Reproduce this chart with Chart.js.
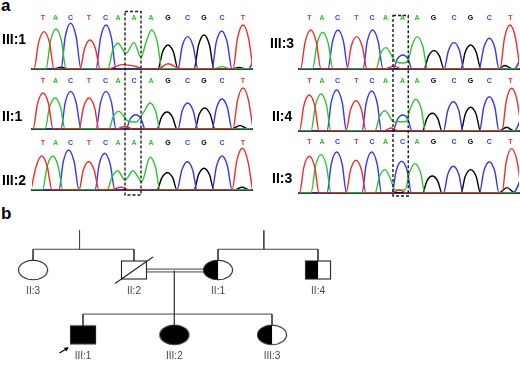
<!DOCTYPE html>
<html>
<head>
<meta charset="utf-8">
<script src="https://cdn.jsdelivr.net/npm/chart.js@4.4.1/dist/chart.umd.min.js"></script>
<style>
  body { margin: 0; background: #fff; }
  #fig { position: relative; width: 520px; height: 372px; overflow: hidden; font-family: "Liberation Sans", Arial, sans-serif; }
  #fig canvas { position: absolute; }
  .tag { position: absolute; font-weight: bold; font-size: 17px; line-height: 17px; color: #000; }
  .who { position: absolute; font-weight: bold; font-size: 14px; line-height: 14px; color: #000; }
  #boxes { position: absolute; left: 0; top: 0; }
</style>
</head>
<body>
<div id="fig">
  <div class="tag" style="left:1px;top:-3px">a</div>
  <div class="tag" style="left:1px;top:205px">b</div>
  <canvas id="c1"></canvas><canvas id="c2"></canvas><canvas id="c3"></canvas>
  <canvas id="c4"></canvas><canvas id="c5"></canvas><canvas id="c6"></canvas>
  <canvas id="ped"></canvas>
  <svg id="boxes" width="520" height="372"></svg>
</div>
<script>
// base call colours
const baseColours = { A: '#2fc42f', C: '#3636ee', G: '#000000', T: '#f02c2c' };

// called sequence per sample
const seqIII1 = ['T','A','C','T','C','A','A','A','G','C','G','C','T'];
const seqII1  = ['T','A','C','T','C','A','C','A','G','C','G','C','T'];
const seqIII2 = ['T','A','C','T','C','A','A','A','G','C','G','C','T'];
const seqIII3 = ['T','A','C','T','C','A','A','A','G','C','G','C','T'];
const seqII4  = ['T','A','C','T','C','A','A','A','G','C','G','C','T'];
const seqII3  = ['T','A','C','T','C','A','C','A','G','C','G','C','T'];

// base call positions (scan units) for the left and right columns
const leftPos  = [11, 23.5, 38.5, 57, 73.5, 86, 102, 119, 136, 155.5, 172, 190, 211];
const rightPos = [10.5, 23, 38.5, 57.5, 73, 86.5, 103.5, 118, 134.5, 155, 171.5, 190.3, 211.5];

// traces: [scan, signal] per channel
const iii1T = [[0,0],[2,0],[6.5,26.2],[12,37.4],[17.5,26.2],[22,0],[48,0],[52.5,20.3],[58,29],[63.5,20.3],[68,0],[76,0],[90,4.4],[104,2.5],[112,0],[126,0],[136,5.2],[146,1],[152,0],[201,0],[205.5,30.8],[211,44],[216.5,30.8],[221,0]];
const iii1A = [[0,0],[14,0],[18.5,28],[24,40],[29.5,28],[34,0],[76,0],[80.5,18],[86,25.7],[94,15.7],[102,26.4],[109,11.7],[114.2,27.3],[119.7,39],[125.2,27.3],[130,0],[181,0],[190,2.4],[199,0],[220,0]];
const iii1C = [[0,0],[29,0],[33.2,32],[38.7,45.7],[44.2,32],[49,0],[64,0],[68.5,30.8],[74,44],[79.5,30.8],[84,0],[146,0],[150.2,22.7],[155.7,32.4],[161.2,22.7],[166,0],[180,0],[184.2,26.6],[189.7,38],[195.2,26.6],[200,0],[216,0],[228,30]];
const iii1G = [[0,0],[21,0],[29,1.7],[37,0],[126,0],[130.5,16.8],[136,24],[141.5,16.8],[146,0],[162,0],[166.5,23.8],[172,34],[177.5,23.8],[182,0],[200,0],[207,1.5],[214,0],[220,0]];

const ii1T = [[0,0],[1,0],[5.5,25.2],[11,36],[16.5,25.2],[21,0],[47,0],[51.5,21.7],[57,31],[62.5,21.7],[67,0],[84,0],[93,2.5],[101,0],[201,0],[205.5,28.7],[211,41],[216.5,28.7],[221,0]];
const ii1A = [[0,0],[13,0],[17.5,21.7],[23,31],[28.5,21.7],[33,0],[77,0],[81.2,12.3],[86.7,17.6],[96,8],[104,7],[112.5,18.2],[118,26],[123.5,18.2],[128,0],[220,0]];
const ii1C = [[0,0],[29,0],[33.2,26.3],[38.7,37.6],[44.2,26.3],[49,0],[64,0],[68.5,26.3],[74,37.6],[79.5,26.3],[84,0],[94,0],[98.2,10],[103.7,14.3],[109.2,10],[113,0],[146,0],[150.2,18.2],[155.7,26],[161.2,18.2],[166,0],[180,0],[184.5,21],[190,30],[195.5,21],[200,0],[220,0]];
const ii1G = [[0,0],[125,0],[129.5,11.9],[135,17],[140.5,11.9],[145,0],[163,0],[167.2,14.7],[172.7,21],[178.2,14.7],[183,0],[200,0],[208,3.6],[216,0],[220,0]];

const iii2T = [[-1,0],[4.2,23.8],[9.7,34],[15.2,23.8],[20,0],[47,0],[51.2,19.8],[56.7,28.3],[62.2,19.8],[67,0],[78,0],[89,2.7],[98,0],[200,0],[204.8,29.2],[210.3,41.7],[215.8,29.2],[220.5,0]];
const iii2A = [[0,0],[10.5,0],[15.2,23.8],[20.7,34],[26.2,23.8],[31,0],[75,0],[80.2,13.5],[85.7,19.3],[93,10],[101,19.3],[109.7,8.3],[118,32.7],[123.5,22.9],[128,0],[220,0]];
const iii2C = [[0,0],[27,0],[31.2,28],[36.7,40],[42.2,28],[47,0],[63,0],[67.2,25.7],[72.7,36.7],[78.2,25.7],[83,0],[145,0],[149.8,19.8],[155.3,28.3],[160.8,19.8],[165,0],[180,0],[184.5,23.8],[190,34],[195.5,23.8],[200,0],[220,0]];
const iii2G = [[0,0],[125,0],[129.8,12.1],[135.3,17.3],[140.8,12.1],[145,0],[162,0],[166.5,15.2],[172,21.7],[177.5,15.2],[182,0],[202,0],[210,2.7],[218,0],[220,0]];

const iii3T = [[0,0],[1.5,0],[6.2,27.3],[11.7,39],[17.2,27.3],[22,0],[48,0],[52.2,22.7],[57.7,32.4],[63.2,22.7],[68,0],[86,0],[95,3],[103,0],[201,0],[205.5,30.8],[211,44],[216.5,30.8],[221,0]];
const iii3A = [[0,0],[13.5,0],[18.2,25.7],[23.7,36.7],[29.2,25.7],[34,0],[77,0],[81.5,15],[87,21.4],[97,7],[104,6],[109,8],[112.8,22.7],[118.3,32.4],[123.8,22.7],[128.5,0],[220,0]];
const iii3C = [[0,0],[29,0],[33.5,27.3],[39,39],[44.5,27.3],[49,0],[64,0],[68.2,27.3],[73.7,39],[79.2,27.3],[84,0],[94,0],[98.2,9.8],[103.7,14],[109.2,9.8],[113,0],[145,0],[149.5,18.5],[155,26.4],[160.5,18.5],[165,0],[180,0],[184.8,21.5],[190.3,30.7],[195.8,21.5],[200,0],[215,0],[228,30]];
const iii3G = [[0,0],[125,0],[129.5,12.9],[135,18.4],[140.5,12.9],[145,0],[162,0],[166.2,16.8],[171.7,24],[177.2,16.8],[182,0],[199,0],[206,3.5],[214,0],[220,0]];

const ii4T = [[0,0],[0.5,0],[4.8,25.2],[10.3,36],[15.8,25.2],[20,0],[47,0],[51.5,21.2],[57,30.3],[62.5,21.2],[67,0],[84,0],[92,3],[100,0],[203,0],[207.2,29.9],[212.7,42.7],[218.2,29.9],[222.5,0]];
const ii4A = [[0,0],[12,0],[16.5,25.9],[22,37],[27.5,25.9],[32,0],[76,0],[80.5,14.2],[86,20.3],[95,9],[101,9.3],[107,9.5],[111.2,22.2],[116.7,31.7],[122.2,22.2],[126.5,0],[220,0]];
const ii4C = [[0,0],[28,0],[32.2,28.7],[37.7,41],[43.2,28.7],[47.5,0],[63,0],[67.2,28],[72.7,40],[78.2,28],[82.5,0],[94,0],[98.2,11.2],[103.7,16],[109.2,11.2],[113,0],[144.5,0],[148.8,20.5],[154.3,29.3],[159.8,20.5],[164,0],[180.5,0],[184.8,24],[190.3,34.3],[195.8,24],[200,0],[215,0],[228,32]];
const ii4G = [[0,0],[123.5,0],[127.8,12.4],[133.3,17.7],[138.8,12.4],[143,0],[162,0],[166.2,16.6],[171.7,23.7],[177.2,16.6],[181.5,0],[200,0],[207.7,3.7],[215,0],[220,0]];

const ii3T = [[0,0],[0.5,0],[4.8,25.7],[10.3,36.7],[15.8,25.7],[20,0],[47,0],[51.5,22.9],[57,32.7],[62.5,22.9],[67,0],[92,0],[100,3],[108,0],[203,0],[207.2,31.1],[212.7,44.4],[218.2,31.1],[222.5,0]];
const ii3A = [[0,0],[12,0],[16.5,26.9],[22,38.4],[27.5,26.9],[32,0],[76,0],[80.5,16.4],[86,23.4],[91.5,14],[96,3],[106,3],[110.5,20.6],[116,29.4],[121.5,20.6],[126,0],[220,0]];
const ii3C = [[0,0],[28,0],[32.2,28.7],[37.7,41],[43.2,28.7],[47.5,0],[63,0],[67.2,28.7],[72.7,41],[78.2,28.7],[82.5,0],[93,0],[97.2,22.2],[102.7,31.7],[108.2,22.2],[112.5,0],[144.5,0],[148.8,18.7],[154.3,26.7],[159.8,18.7],[164,0],[180.5,0],[184.8,21.7],[190.3,31],[195.8,21.7],[200,0],[214,0],[228,34]];
const ii3G = [[0,0],[123.5,0],[127.8,11.9],[133.3,17],[138.8,11.9],[143,0],[162,0],[166.2,16.4],[171.7,23.4],[177.2,16.4],[181.5,0],[200,0],[208,5.4],[216,0],[220,0]];

// pedigree
const pedIds  = ['II:3', 'II:2', 'II:1', 'II:4', 'III:1', 'III:2', 'III:3'];
const pedX    = [23.5, 131, 220.5, 327, 76.7, 174, 278];
const pedGen  = [2, 2, 2, 2, 3, 3, 3];
const pedSex  = ['F', 'M', 'F', 'M', 'M', 'F', 'F'];
const pedFill = ['none', 'none', 'half', 'half', 'full', 'full', 'half'];
const pedDeceased = ['II:2'];
const pedProband = 'III:1';
const sibships = [['II:3', 'II:2'], ['II:1', 'II:4'], ['III:1', 'III:2', 'III:3']];
const sibLineX = [73, 269.3, 174];
const sibLineFrom = [1.39, 1.39, 2.01];
const couples = [['II:2', 'II:1']];

const SCAN_MAX = 220;

function chromatogram(id, left, letterY, baseline, pos, letters, traces) {
  const top = Math.round(letterY - 3.5);
  const bottom = Math.round(baseline);
  const cv = document.getElementById(id);
  cv.style.left = (left - 4) + 'px';
  cv.style.top = top + 'px';
  cv.width = SCAN_MAX + 8;
  cv.height = bottom - top + 2;

  const order = ['T', 'A', 'C', 'G'];
  new Chart(cv, {
    type: 'line',
    data: {
      datasets: order.map(b => ({
        data: traces[b].map(p => ({ x: p[0], y: p[1] })),
        borderColor: baseColours[b],
        borderWidth: 1.4,
        pointRadius: 0,
        fill: false,
        cubicInterpolationMode: 'monotone'
      }))
    },
    options: {
      animation: false,
      responsive: false,
      devicePixelRatio: 1,
      events: [],
      layout: { padding: { left: 4, right: 4, top: 0, bottom: 2 } },
      plugins: { legend: { display: false }, tooltip: { enabled: false } },
      scales: {
        x: {
          type: 'linear', min: 0, max: SCAN_MAX, z: 1,
          ticks: { display: false },
          grid: { display: false, drawTicks: false },
          border: { display: true, color: '#3c3c3c', width: 2 }
        },
        seq: {
          type: 'linear', position: 'top', min: 0, max: SCAN_MAX,
          afterBuildTicks: ax => { ax.ticks = pos.map(v => ({ value: v })); },
          ticks: {
            autoSkip: false, maxRotation: 0, padding: 0,
            font: { size: 7, weight: 'bold', lineHeight: 1, family: 'Liberation Sans' },
            color: c => baseColours[letters[c.index]],
            callback: (v, i) => letters[i]
          },
          grid: { display: false, drawTicks: false },
          border: { display: false }
        },
        y: { display: false, min: 0, max: bottom - top - 7 }
      }
    }
  });
}

chromatogram('c1', 32, 18.7, 68.7, leftPos, seqIII1, { T: iii1T, A: iii1A, C: iii1C, G: iii1G });
chromatogram('c2', 32, 81, 129.3, leftPos, seqII1, { T: ii1T, A: ii1A, C: ii1C, G: ii1G });
chromatogram('c3', 32, 143.3, 190, leftPos, seqIII2, { T: iii2T, A: iii2A, C: iii2C, G: iii2G });
chromatogram('c4', 299, 18.7, 68.7, rightPos, seqIII3, { T: iii3T, A: iii3A, C: iii3C, G: iii3G });
chromatogram('c5', 299, 81, 131, rightPos, seqII4, { T: ii4T, A: ii4A, C: ii4C, G: ii4G });
chromatogram('c6', 299, 142, 192.7, rightPos, seqII3, { T: ii3T, A: ii3A, C: ii3C, G: ii3G });

// sample names next to each trace
const fig = document.getElementById('fig');
[['III:1', 2, 32], ['II:1', 2, 109], ['III:2', 2, 173], ['III:3', 270, 36], ['II:4', 272, 109], ['II:3', 272, 171]].forEach(([t, x, y]) => {
  const d = document.createElement('div');
  d.className = 'who';
  d.textContent = t;
  d.style.left = x + 'px';
  d.style.top = y + 'px';
  fig.appendChild(d);
});

// dashed box round the variant base (index 6) in both columns
const svg = document.getElementById('boxes');
[[32, leftPos, 11.5, 195], [299, rightPos, 15.5, 196]].forEach(([left, pos, y0, y1]) => {
  const x0 = left + (pos[5] + pos[6]) / 2 - 1;
  const x1 = left + (pos[6] + pos[7]) / 2 - 1.5;
  const r = document.createElementNS('http://www.w3.org/2000/svg', 'rect');
  r.setAttribute('x', x0); r.setAttribute('y', y0);
  r.setAttribute('width', x1 - x0); r.setAttribute('height', y1 - y0);
  r.setAttribute('fill', 'none'); r.setAttribute('stroke', '#1a1a1a');
  r.setAttribute('stroke-width', '1.4'); r.setAttribute('stroke-dasharray', '3 2');
  svg.appendChild(r);
});

// pedigree symbols as point images
function symbol(sex, fillKind, deceased) {
  const c = document.createElement('canvas');
  c.width = 44; c.height = 32;
  const g = c.getContext('2d');
  const cx = 22, cy = 16;
  g.lineWidth = 1.1;
  g.strokeStyle = '#222';
  g.fillStyle = '#fff';
  if (sex === 'M') {
    const w = 25, h = 18;
    g.fillRect(cx - w / 2, cy - h / 2, w, h);
    g.fillStyle = '#000';
    if (fillKind === 'full') g.fillRect(cx - w / 2, cy - h / 2, w, h);
    if (fillKind === 'half') g.fillRect(cx - w / 2, cy - h / 2, w / 2, h);
    g.strokeRect(cx - w / 2, cy - h / 2, w, h);
  } else {
    const rx = 14.5, ry = 9.7;
    g.beginPath(); g.ellipse(cx, cy, rx, ry, 0, 0, Math.PI * 2); g.fill();
    g.fillStyle = '#000';
    if (fillKind === 'full') { g.beginPath(); g.ellipse(cx, cy, rx, ry, 0, 0, Math.PI * 2); g.fill(); }
    if (fillKind === 'half') { g.beginPath(); g.ellipse(cx, cy, rx, ry, 0, Math.PI / 2, Math.PI * 1.5); g.closePath(); g.fill(); }
    g.beginPath(); g.ellipse(cx, cy, rx, ry, 0, 0, Math.PI * 2); g.stroke();
  }
  if (deceased) {
    g.beginPath(); g.moveTo(cx - 19, cy + 13.5); g.lineTo(cx + 19, cy - 13); g.stroke();
  }
  return c;
}

const PX = 1 / 75; // one figure pixel in generation units
const segments = [];
const at = id => pedIds.indexOf(id);
sibships.forEach((grp, k) => {
  const xs = grp.map(id => pedX[at(id)]);
  const gen = pedGen[at(grp[0])];
  const bar = gen - 0.32;
  segments.push([[sibLineX[k], sibLineFrom[k]], [sibLineX[k], bar]]);
  segments.push([[Math.min(...xs), bar], [Math.max(...xs), bar]]);
  xs.forEach(x => segments.push([[x, bar], [x, gen]]));
});
couples.forEach(([a, b]) => {
  [-0.022, 0.022].forEach(d => {
    segments.push([[pedX[at(a)], pedGen[at(a)] + 0.008 + d], [pedX[at(b)], pedGen[at(b)] + 0.008 + d]]);
  });
});

const pedLabels = {
  id: 'pedLabels',
  afterDatasetsDraw(chart) {
    const { ctx, scales: { x, y } } = chart;
    ctx.save();
    ctx.font = '10px "Liberation Sans", Arial, sans-serif';
    ctx.fillStyle = '#444';
    ctx.textAlign = 'center';
    ctx.textBaseline = 'middle';
    pedIds.forEach((id, i) => {
      ctx.fillText(id, x.getPixelForValue(pedX[i]), y.getPixelForValue(pedGen[i] + 0.33));
    });
    // proband arrow
    const p = at(pedProband);
    const tx = x.getPixelForValue(pedX[p] - 25), ty = y.getPixelForValue(pedGen[p] + 21 * PX);
    const hx = x.getPixelForValue(pedX[p] - 15), hy = y.getPixelForValue(pedGen[p] + 14.3 * PX);
    const ang = Math.atan2(hy - ty, hx - tx);
    ctx.strokeStyle = '#000'; ctx.fillStyle = '#000'; ctx.lineWidth = 1.2;
    ctx.beginPath(); ctx.moveTo(tx, ty); ctx.lineTo(hx - 2 * Math.cos(ang), hy - 2 * Math.sin(ang)); ctx.stroke();
    ctx.beginPath();
    ctx.moveTo(hx, hy);
    ctx.lineTo(hx - 5 * Math.cos(ang - 0.45), hy - 5 * Math.sin(ang - 0.45));
    ctx.lineTo(hx - 5 * Math.cos(ang + 0.45), hy - 5 * Math.sin(ang + 0.45));
    ctx.closePath(); ctx.fill();
    ctx.restore();
  }
};

const pedCanvas = document.getElementById('ped');
pedCanvas.style.left = '0px';
pedCanvas.style.top = '210px';
pedCanvas.width = 360;
pedCanvas.height = 162;

new Chart(pedCanvas, {
  type: 'scatter',
  data: {
    datasets: [
      {
        data: pedIds.map((id, i) => ({ x: pedX[i], y: pedGen[i] })),
        pointStyle: pedIds.map((id, i) => symbol(pedSex[i], pedFill[i], pedDeceased.includes(id))),
        pointRadius: 10,
        showLine: false
      },
      ...segments.map(s => ({
        data: s.map(p => ({ x: p[0], y: p[1] })),
        showLine: true,
        borderColor: '#444',
        borderWidth: 1,
        pointRadius: 0
      }))
    ]
  },
  options: {
    animation: false,
    responsive: false,
    devicePixelRatio: 1,
    events: [],
    layout: { padding: 0 },
    plugins: { legend: { display: false }, tooltip: { enabled: false } },
    scales: {
      x: { display: false, min: 0, max: 360 },
      y: { display: false, reverse: true, min: 2 - 56.7 * PX, max: 3 + 30.3 * PX }
    }
  },
  plugins: [pedLabels]
});
</script>
</body>
</html>
